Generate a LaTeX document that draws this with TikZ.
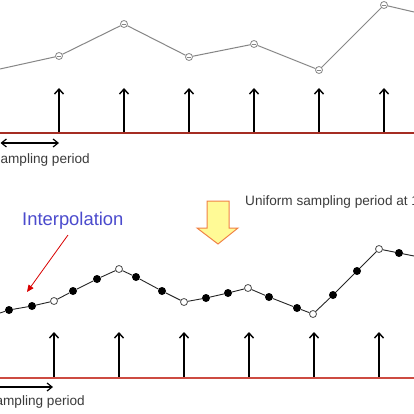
\documentclass[tikz,border=0pt]{standalone}
\usepackage{fontspec}
\setmainfont{Liberation Sans}
\usetikzlibrary{arrows.meta}
\definecolor{txtgray}{RGB}{60,60,60}
\definecolor{linegray}{RGB}{135,135,135}
\definecolor{axisred}{RGB}{165,45,35}
\definecolor{axisred2}{RGB}{205,75,65}
\definecolor{interpblue}{RGB}{75,75,205}
\definecolor{blockfill}{RGB}{255,250,150}
\definecolor{blockdraw}{RGB}{240,130,70}
\begin{document}
\begin{tikzpicture}[x=1pt,y=-1pt,
  opn/.style={circle,draw=linegray,fill=white,inner sep=0pt,minimum size=7pt,line width=0.8pt,
    path picture={\draw[linegray,line width=0.6pt] ([xshift=1.6pt]path picture bounding box.west) -- ([xshift=-1.6pt]path picture bounding box.east);}},
  opnb/.style={circle,draw=black!70,fill=white,inner sep=0pt,minimum size=7pt,line width=0.8pt},
  fil/.style={circle,fill=black,inner sep=0pt,minimum size=8pt},
  samparrow/.style={line width=1.6pt,-{Straight Barb[length=5pt,width=9pt,line width=1.4pt]}},
  period/.style={line width=1.3pt,-{Straight Barb[length=5pt,width=8pt,line width=1.2pt]}},
  dperiod/.style={line width=1.3pt,{Straight Barb[length=5pt,width=8pt,line width=1.2pt]}-{Straight Barb[length=5pt,width=8pt,line width=1.2pt]}},
  lbl/.style={text=txtgray,font=\fontsize{13.6}{16}\selectfont,inner sep=0pt},
]
\useasboundingbox (0,0) rectangle (414,414);
\fill[white] (0,0) rectangle (414,414);

% ---------- top panel ----------
\coordinate (tL) at (0,69);
\node[opn] (t1) at (59,56) {};
\node[opn] (t2) at (124,24) {};
\node[opn] (t3) at (189,57) {};
\node[opn] (t4) at (254,44) {};
\node[opn] (t5) at (319,70) {};
\node[opn] (t6) at (384,5) {};
\coordinate (tR) at (414,12);
\draw[linegray,line width=1pt] (tL) -- (t1) -- (t2) -- (t3) -- (t4) -- (t5) -- (t6) -- (tR);

\foreach \i/\x in {1/59,2/124,3/189,4/254,5/319,6/384}{
  \coordinate (ta\i) at (\x,133);
  \coordinate (tb\i) at (\x,88);
  \draw[samparrow] (ta\i) -- (tb\i);
}
\coordinate (tax0) at (0,133);
\coordinate (tax1) at (414,133);
\draw[axisred,line width=2pt] (tax0) -- (tax1);

\coordinate (tp0) at (0.5,143);
\coordinate (tp1) at (59,143);
\draw[dperiod] (tp0) -- (tp1);
\node[lbl,anchor=base east] (tlab) at (90,163) {sampling period};

% ---------- middle ----------
\node[text=interpblue,font=\fontsize{18.4}{22}\selectfont,inner sep=0pt,anchor=base west] (interp) at (22,225) {Interpolation};
\coordinate (ia) at (68,235);
\coordinate (ib) at (27,292);
\draw[red!85!black,line width=0.8pt,-{Triangle[length=7pt,width=6pt]}] (ia) -- (ib);

\draw[blockdraw,fill=blockfill,line width=1pt,line join=miter]
  (207,201) -- (229,201) -- (229,228) -- (238,228) -- (218,244) -- (197,228) -- (207,228) -- cycle;
\node[lbl,anchor=base west] (uni) at (245,205) {Uniform sampling period at 1};

% ---------- bottom panel ----------
\coordinate (bL) at (0,313);
\node[fil] (b1) at (9,310) {};
\node[fil] (b2) at (32,306) {};
\node[opnb] (b3) at (54,301) {};
\node[fil] (b4) at (73,291) {};
\node[fil] (b5) at (97,279) {};
\node[opnb] (b6) at (119,269) {};
\node[fil] (b7) at (136,277) {};
\node[fil] (b8) at (162,291) {};
\node[opnb] (b9) at (184,302) {};
\node[fil] (b10) at (206,298) {};
\node[fil] (b11) at (228,293) {};
\node[opnb] (b12) at (248,288) {};
\node[fil] (b13) at (269,297) {};
\node[fil] (b14) at (297,308) {};
\node[opnb] (b15) at (313,314) {};
\node[fil] (b16) at (333,295) {};
\node[fil] (b17) at (357,271) {};
\node[opnb] (b18) at (379,249) {};
\node[fil] (b19) at (399,253) {};
\coordinate (bR) at (414,256);
\draw[black!85,line width=0.9pt] (bL) -- (b1) -- (b2) -- (b3) -- (b4) -- (b5) -- (b6) -- (b7) -- (b8) -- (b9) -- (b10)
  -- (b11) -- (b12) -- (b13) -- (b14) -- (b15) -- (b16) -- (b17) -- (b18) -- (b19) -- (bR);

\foreach \i/\x in {1/54,2/119,3/184,4/249,5/314,6/379}{
  \coordinate (ba\i) at (\x,378);
  \coordinate (bb\i) at (\x,332);
  \draw[samparrow] (ba\i) -- (bb\i);
}
\coordinate (bax0) at (0,378);
\coordinate (bax1) at (414,378);
\draw[axisred2,line width=2pt] (bax0) -- (bax1);

\coordinate (bp0) at (0,387);
\coordinate (bp1) at (53,387);
\draw[period] (bp0) -- (bp1);
\node[lbl,anchor=base east] (blab) at (85,405) {sampling period};
\end{tikzpicture}
\end{document}
